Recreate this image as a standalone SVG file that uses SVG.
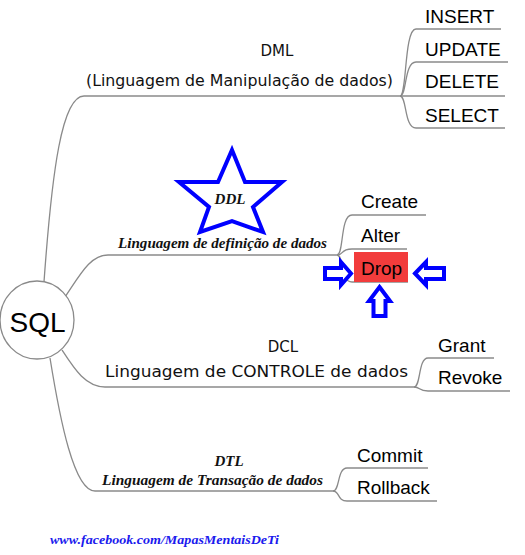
<svg xmlns="http://www.w3.org/2000/svg" width="525" height="555" viewBox="0 0 525 555">
<style>
.ln{fill:none;stroke:#8a8a8a;stroke-width:1.3}
.leaf{font-family:"Liberation Sans",Arial,sans-serif;font-size:19px;fill:#000}
.hand{font-family:"DejaVu Sans","Noto Sans",sans-serif;font-size:15px;fill:#111}
.cal{font-family:"Liberation Serif","Times New Roman",serif;font-weight:bold;font-style:italic;fill:#111}
.arr{fill:#fff;stroke:#0000ff;stroke-width:4;stroke-linejoin:miter}
</style>
<rect width="525" height="555" fill="#fff"/>
<g id="connectors">
<path class="ln" d="M44,282 C52,170 62,96 84,96 H400"/>
<path class="ln" d="M400,96 C407,96 404,29 416,29 H501"/>
<path class="ln" d="M400,96 C407,96 404,62 416,62 H508"/>
<path class="ln" d="M400,96 H505"/>
<path class="ln" d="M400,96 C407,96 404,128 416,128 H505"/>
<path class="ln" d="M65,297 C80,275 90,255 108,255 H337"/>
<path class="ln" d="M337,255 C344,255 340,215 352,215 H426"/>
<path class="ln" d="M337,255 C344,255 340,249 352,249 H407"/>
<path class="ln" d="M337,255 C344,255 340,282 352,282 H408"/>
<path class="ln" d="M62,350 C75,370 86,387 105,387 H414"/>
<path class="ln" d="M414,387 C421,387 418,358 428,358 H494"/>
<path class="ln" d="M414,387 C421,387 418,391 428,391 H510"/>
<path class="ln" d="M50,358 C60,420 74,491 95,491 H333"/>
<path class="ln" d="M333,491 C340,491 337,468 347,468 H428"/>
<path class="ln" d="M333,491 C340,491 337,501 347,501 H437"/>
</g>
<g id="sql">
<ellipse cx="37" cy="320" rx="37" ry="39" fill="#fff" stroke="#8a8a8a" stroke-width="1.3"/>
<text x="37.5" y="332" text-anchor="middle" font-family="Liberation Sans,Arial,sans-serif" font-size="28" fill="#000">SQL</text>
</g>
<g id="dml">
<text class="hand" x="277" y="56" text-anchor="middle">DML</text>
<text class="hand" x="86" y="86" textLength="307" lengthAdjust="spacingAndGlyphs">(Linguagem de Manipulação de dados)</text>
</g>
<g id="insert"><text class="leaf" x="425" y="23">INSERT</text></g>
<g id="update"><text class="leaf" x="425" y="56">UPDATE</text></g>
<g id="delete"><text class="leaf" x="425" y="88">DELETE</text></g>
<g id="select"><text class="leaf" x="425" y="122">SELECT</text></g>
<g id="ddl">
<polygon points="232,150 245,182 282,182 253,207 263,232 232,221 200,232 209,207 179,182 218,182" fill="none" stroke="#0000ff" stroke-width="4" stroke-linejoin="miter"/>
<text class="cal" x="230" y="204" text-anchor="middle" font-size="15">DDL</text>
<text class="cal" x="118" y="248" font-size="14" textLength="209" lengthAdjust="spacingAndGlyphs">Linguagem de definição de dados</text>
</g>
<g id="create"><text class="leaf" x="361" y="208">Create</text></g>
<g id="alter"><text class="leaf" x="361" y="242">Alter</text></g>
<g id="drop">
<rect x="354" y="252" width="54" height="30" fill="#f23c3c"/>
<text class="leaf" x="361" y="275">Drop</text>
</g>
<g id="arrows">
<polygon class="arr" points="325,268 341,268 341,262 351,273.5 341,285 341,279 325,279"/>
<polygon class="arr" points="415,273.5 426,262 426,268 444,268 444,279 426,279 426,285"/>
<polygon class="arr" points="379.5,287 390,301 385.5,301 385.5,316 373.5,316 373.5,301 369,301"/>
</g>
<g id="dcl">
<text class="hand" x="283" y="352" text-anchor="middle">DCL</text>
<text class="hand" x="105" y="377" textLength="303" lengthAdjust="spacingAndGlyphs">Linguagem de CONTROLE de dados</text>
</g>
<g id="grant"><text class="leaf" x="438" y="352">Grant</text></g>
<g id="revoke"><text class="leaf" x="438" y="384">Revoke</text></g>
<g id="dtl">
<text class="cal" x="229" y="466" text-anchor="middle" font-size="15">DTL</text>
<text class="cal" x="102" y="485" font-size="14" textLength="221" lengthAdjust="spacingAndGlyphs">Linguagem de Transação de dados</text>
</g>
<g id="commit"><text class="leaf" x="357" y="462">Commit</text></g>
<g id="rollback"><text class="leaf" x="357" y="494">Rollback</text></g>
<g id="footer">
<text x="50" y="544" font-family="Liberation Serif,serif" font-weight="bold" font-style="italic" font-size="13" fill="#1a1aee" textLength="229" lengthAdjust="spacingAndGlyphs">www.facebook.com/MapasMentaisDeTi</text>
</g>
</svg>
